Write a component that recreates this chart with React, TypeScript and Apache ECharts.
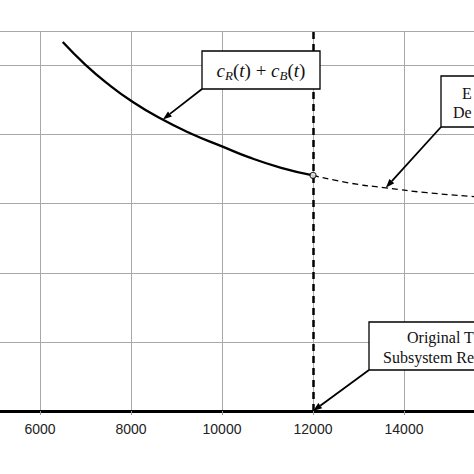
import React, { useEffect, useRef } from "react";
import * as echarts from "echarts";

// solid part: c_R(t) + c_B(t) up to the original design point
const solidX = [6500, 7000, 7500, 8000, 8600, 9300, 10000, 10600, 11300, 12000];
const solidY = [5.34, 5.01, 4.73, 4.49, 4.25, 4.02, 3.83, 3.67, 3.52, 3.41];
// dashed part: continuation past the design point
const dashX = [12000, 12800, 13600, 14500, 15600];
const dashY = [3.41, 3.3, 3.23, 3.16, 3.1];
const designX = 12000;
const xTicks = [4000, 6000, 8000, 10000, 12000, 14000, 16000];

const serif = "'Liberation Serif', 'Times New Roman', serif";

function arrow(from: number[], to: number[]) {
  const dx = to[0] - from[0];
  const dy = to[1] - from[1];
  const len = Math.hypot(dx, dy);
  const ux = dx / len;
  const uy = dy / len;
  const bx = to[0] - ux * 9;
  const by = to[1] - uy * 9;
  const nx = -uy * 3.2;
  const ny = ux * 3.2;
  return [
    {
      type: "line",
      shape: { x1: from[0], y1: from[1], x2: bx, y2: by },
      style: { stroke: "#000", lineWidth: 1.8 },
      z: 100,
    },
    {
      type: "polygon",
      shape: { points: [to, [bx + nx, by + ny], [bx - nx, by - ny]] },
      style: { fill: "#000" },
      z: 100,
    },
  ];
}

const App: React.FC = () => {
  const chartRef = useRef<HTMLDivElement>(null);

  useEffect(() => {
    if (!chartRef.current) return;
    const myChart = echarts.init(chartRef.current, null, { renderer: "svg" });

    const option: any = {
      animation: false,
      backgroundColor: "#fff",
      grid: { left: -51, right: -21, top: 31, bottom: 63, outerBoundsMode: "none", containLabel: false },
      xAxis: {
        type: "value",
        min: xTicks[0],
        max: xTicks[xTicks.length - 1],
        interval: 2000,
        axisLine: { show: true, lineStyle: { color: "#000", width: 3 } },
        axisTick: { show: true, length: 4, lineStyle: { color: "#999" } },
        axisLabel: {
          margin: 11,
          fontSize: 14,
          color: "#222",
          fontFamily: "'Liberation Sans', Arial, sans-serif",
          formatter: (v: number) => (v < 5000 || v > 15000 ? "" : String(v)),
        },
        splitLine: { show: true, lineStyle: { color: "#a8a8a8", width: 1 } },
      },
      yAxis: {
        type: "value",
        min: 0,
        max: 5.5,
        interval: 1,
        axisLine: { show: false },
        axisTick: { show: false },
        axisLabel: { show: false },
        splitLine: { show: true, lineStyle: { color: "#a8a8a8", width: 1 } },
      },
      series: [
        {
          type: "line",
          data: solidX.map((x, i) => [x, solidY[i]]),
          smooth: true,
          showSymbol: false,
          lineStyle: { color: "#000", width: 2.3 },
          markLine: {
            silent: true,
            symbol: "none",
            label: { show: false },
            lineStyle: { color: "#000", width: 2.5, type: [7, 5] },
            data: [{ xAxis: designX }],
          },
        },
        {
          type: "line",
          data: dashX.map((x, i) => [x, dashY[i]]),
          smooth: true,
          showSymbol: false,
          lineStyle: { color: "#000", width: 1.3, type: [6, 4] },
        },
        {
          type: "scatter",
          data: [[designX, solidY[solidY.length - 1]]],
          symbol: "circle",
          symbolSize: 6,
          itemStyle: { color: "#fff", borderColor: "#000", borderWidth: 1.2 },
          z: 5,
        },
      ],
    };
    myChart.setOption(option);

    const tip1 = myChart.convertToPixel({ gridIndex: 0 }, [8700, 4.22]) as number[];
    const tip2 = myChart.convertToPixel({ gridIndex: 0 }, [13600, 3.23]) as number[];
    const tip3 = myChart.convertToPixel({ gridIndex: 0 }, [designX, 0]) as number[];

    const boxStyle = { fill: "#fff", stroke: "#000", lineWidth: 1.3 };
    const txt = (x: number, y: number, text: string) => ({
      type: "text",
      x,
      y,
      z: 101,
      style: { text, font: `16px ${serif}`, fill: "#111", verticalAlign: "middle" },
    });

    myChart.setOption({
      graphic: [
        { type: "rect", shape: { x: 202, y: 51, width: 118, height: 38 }, style: boxStyle, z: 99 },
        {
          type: "text",
          x: 261,
          y: 70,
          z: 101,
          style: {
            text: "{i|c}{s|R}{n|(}{i|t}{n|) + }{i|c}{s|B}{n|(}{i|t}{n|)}",
            align: "center",
            verticalAlign: "middle",
            fill: "#111",
            rich: {
              i: { fontFamily: serif, fontSize: 19, fontStyle: "italic", fill: "#111" },
              n: { fontFamily: serif, fontSize: 19, fill: "#111" },
              s: {
                fontFamily: serif,
                fontSize: 13,
                fontStyle: "italic",
                fill: "#111",
                padding: [10, 0, 0, 0],
              },
            },
          },
        },
        ...arrow([202, 89], tip1),
        { type: "rect", shape: { x: 441, y: 76, width: 120, height: 51 }, style: boxStyle, z: 99 },
        txt(462, 93, "E"),
        txt(453, 112, "De"),
        ...arrow([441, 127], tip2),
        { type: "rect", shape: { x: 369, y: 322, width: 160, height: 48 }, style: boxStyle, z: 99 },
        txt(407, 337, "Original T"),
        txt(383, 357, "Subsystem Re"),
        ...arrow([369, 370], tip3),
      ],
    });

    return () => {
      myChart.dispose();
    };
  }, []);

  return (
    <div
      ref={chartRef}
      style={{ position: "absolute", left: 0, top: 0, width: 474, height: 474, overflow: "hidden" }}
    />
  );
};

export default App;
